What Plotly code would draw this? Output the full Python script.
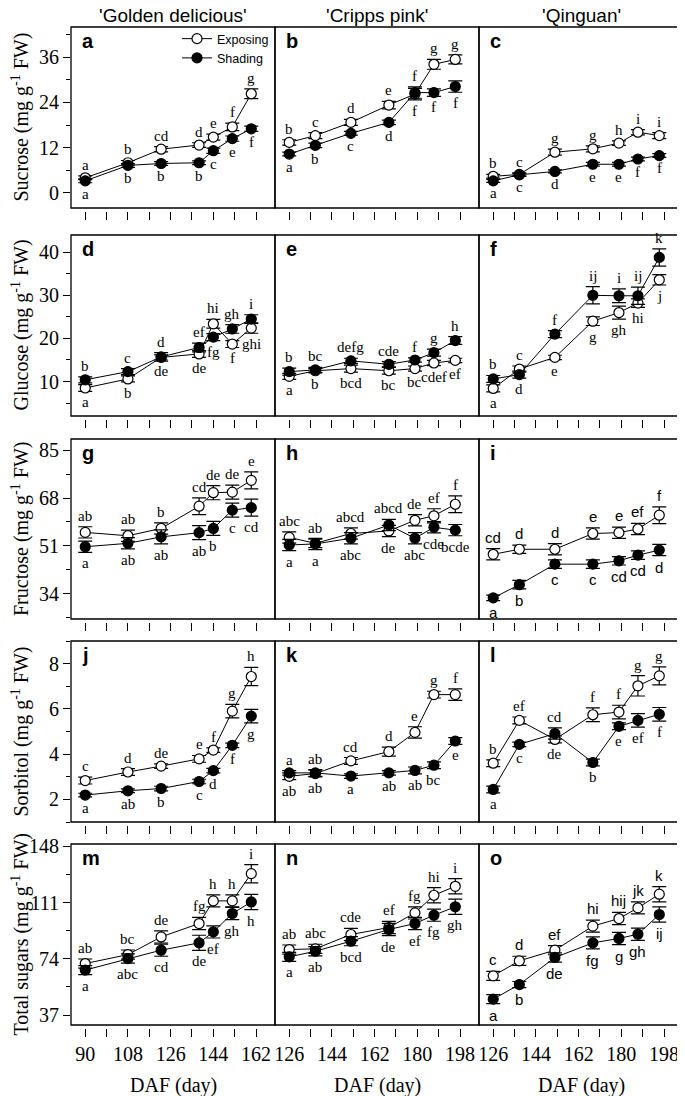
import plotly.graph_objects as go

W, H = 685, 1096
OFF = 8  # the page body has an 8px margin, positions below are given in window pixels

# DATA
days_gd = [90, 108, 122, 138, 144, 152, 160]
days_late = [126, 137, 152, 168, 179, 187, 196]
cultivars = ["'Golden delicious'", "'Cripps pink'", "'Qinguan'"]
sugar_names = ['Sucrose', 'Glucose', 'Fructose', 'Sorbitol', 'Total sugars']
panel_letters = list('abcdefghijklmno')

# one list per cultivar: Golden delicious, Cripps pink, Qinguan
sucrose_exp = [[4.0, 8.0, 11.6, 12.7, 14.8, 17.5, 26.3],
               [13.4, 15.2, 18.7, 23.3, 26.2, 34.1, 35.4],
               [4.4, 4.9, 10.8, 11.7, 13.2, 16.1, 15.2]]
sucrose_shd = [[3.2, 7.3, 7.8, 8.0, 11.2, 14.4, 17.0],
               [10.3, 12.6, 15.8, 18.7, 26.6, 26.6, 28.2],
               [3.2, 4.8, 5.7, 7.6, 7.6, 9.0, 9.9]]
sucrose_exp_err = [[0.5, 0.6, 0.7, 0.6, 0.8, 1.0, 1.3],
                   [0.7, 0.8, 0.8, 1.0, 1.5, 1.3, 1.2],
                   [0.5, 0.4, 0.8, 0.8, 0.6, 0.7, 0.8]]
sucrose_shd_err = [[0.5, 0.5, 0.5, 0.5, 0.7, 0.7, 0.7],
                   [0.5, 0.6, 0.5, 0.6, 1.5, 1.0, 1.5],
                   [0.4, 0.4, 0.4, 0.5, 0.5, 0.5, 0.5]]
sucrose_exp_lab = [['a', 'b', 'cd', 'd', 'e', 'f', 'g'],
                   ['b', 'c', 'd', 'e', 'f', 'g', 'g'],
                   ['b', 'c', 'g', 'g', 'h', 'i', 'i']]
sucrose_shd_lab = [['a', 'b', 'b', 'b', 'c', 'e', 'f'],
                   ['a', 'b', 'c', 'd', 'f', 'f', 'f'],
                   ['a', 'c', 'd', 'e', 'e', 'f', 'f']]

glucose_exp = [[8.5, 10.6, 15.6, 16.4, 23.4, 18.7, 22.4],
               [11.2, 12.5, 13.0, 12.5, 13.0, 14.3, 14.9],
               [8.4, 12.9, 15.6, 24.0, 26.0, 28.2, 33.6]]
glucose_shd = [[10.4, 12.3, 15.7, 17.9, 20.3, 22.2, 24.5],
               [12.3, 12.7, 14.8, 14.0, 15.0, 16.7, 19.5],
               [10.6, 11.6, 21.0, 30.0, 29.9, 29.9, 38.8]]
glucose_exp_err = [[0.8, 0.7, 0.6, 0.8, 1.0, 0.8, 1.2],
                   [0.7, 0.5, 0.8, 0.8, 0.6, 0.6, 0.5],
                   [0.8, 0.7, 0.5, 1.0, 1.5, 1.0, 1.2]]
glucose_shd_err = [[0.7, 0.7, 1.0, 1.0, 0.8, 1.0, 1.0],
                   [0.8, 0.6, 0.6, 0.6, 0.5, 0.8, 0.9],
                   [0.8, 0.8, 0.8, 2.0, 1.6, 2.0, 2.0]]
glucose_exp_lab = [['a', 'b', 'de', 'de', 'hi', 'f', 'ghi'],
                   ['a', 'b', 'bcd', 'bc', 'bc', 'cdef', 'ef'],
                   ['a', 'c', 'e', 'g', 'gh', 'hi', 'j']]
glucose_shd_lab = [['b', 'c', 'd', 'ef', 'fg', 'gh', 'i'],
                   ['b', 'bc', 'defg', 'cde', 'f', 'g', 'h'],
                   ['b', 'd', 'f', 'ij', 'i', 'ij', 'k']]

fructose_exp = [[55.8, 54.6, 57.2, 65.1, 69.9, 70.1, 74.3],
                [54.0, 51.9, 55.4, 56.3, 60.1, 61.7, 65.8],
                [48.0, 49.8, 49.8, 55.4, 55.7, 57.0, 61.9]]
fructose_shd = [[50.7, 51.9, 54.2, 55.7, 57.2, 63.7, 64.6],
                [51.3, 51.7, 53.7, 58.4, 53.7, 57.6, 56.6],
                [32.5, 37.2, 44.5, 44.5, 45.7, 47.7, 49.5]]
fructose_exp_err = [[2.0, 2.0, 2.0, 3.0, 2.5, 2.5, 3.0],
                    [2.0, 1.5, 2.0, 2.0, 2.0, 2.5, 3.0],
                    [2.0, 1.5, 2.0, 2.0, 2.0, 2.0, 3.0]]
fructose_shd_err = [[2.0, 2.0, 2.5, 2.5, 2.5, 2.5, 3.0],
                    [2.0, 2.0, 2.0, 2.0, 2.0, 2.0, 2.0],
                    [1.0, 1.5, 1.5, 1.5, 1.5, 1.5, 2.0]]
fructose_exp_lab = [['ab', 'ab', 'b', 'cd', 'de', 'de', 'e'],
                    ['abc', 'ab', 'abcd', 'de', 'de', 'ef', 'f'],
                    ['cd', 'd', 'd', 'e', 'e', 'ef', 'f']]
fructose_shd_lab = [['a', 'ab', 'ab', 'ab', 'b', 'c', 'cd'],
                    ['a', 'a', 'abc', 'abcd', 'abc', 'cde', 'bcde'],
                    ['a', 'b', 'c', 'c', 'cd', 'cd', 'd']]

sorbitol_exp = [[2.83, 3.21, 3.47, 3.79, 4.18, 5.90, 7.43],
                [3.02, 3.14, 3.70, 4.11, 4.96, 6.63, 6.63],
                [3.60, 5.49, 4.65, 5.74, 5.86, 7.02, 7.46]]
sorbitol_shd = [[2.19, 2.38, 2.48, 2.79, 3.27, 4.39, 5.68],
                [3.17, 3.17, 3.03, 3.17, 3.28, 3.51, 4.58],
                [2.44, 4.43, 4.91, 3.63, 5.23, 5.49, 5.76]]
sorbitol_exp_err = [[0.15, 0.15, 0.1, 0.15, 0.1, 0.3, 0.4],
                    [0.15, 0.15, 0.15, 0.2, 0.25, 0.15, 0.25],
                    [0.15, 0.15, 0.15, 0.3, 0.3, 0.45, 0.4]]
sorbitol_shd_err = [[0.08, 0.08, 0.1, 0.1, 0.1, 0.1, 0.3],
                    [0.1, 0.15, 0.1, 0.1, 0.15, 0.15, 0.15],
                    [0.15, 0.1, 0.25, 0.15, 0.15, 0.3, 0.3]]
sorbitol_exp_lab = [['c', 'd', 'de', 'e', 'f', 'g', 'h'],
                    ['ab', 'ab', 'cd', 'd', 'e', 'g', 'f'],
                    ['b', 'ef', 'de', 'f', 'f', 'g', 'g']]
sorbitol_shd_lab = [['a', 'ab', 'b', 'c', 'd', 'f', 'g'],
                    ['a', 'ab', 'a', 'ab', 'ab', 'bc', 'e'],
                    ['a', 'c', 'cd', 'b', 'e', 'ef', 'f']]

total_exp = [[70.9, 76.8, 88.4, 97.2, 112.1, 112.1, 130.0],
             [80.1, 80.6, 90.0, 94.6, 104.2, 115.8, 121.7],
             [62.8, 72.7, 79.7, 95.5, 100.5, 107.5, 116.5]]
total_shd = [[66.6, 74.2, 79.7, 84.5, 91.7, 103.8, 111.4],
             [75.3, 79.0, 85.6, 93.3, 97.2, 102.7, 108.2],
             [47.5, 57.1, 74.9, 84.5, 87.4, 90.2, 103.1]]
total_exp_err = [[3, 3, 4, 4, 4, 4, 6],
                 [3, 3, 4, 4, 4, 5, 5],
                 [3, 3, 3, 4, 4, 4, 5]]
total_shd_err = [[3, 3, 4, 5, 4, 4, 5],
                 [3, 3, 3, 4, 4, 4, 5],
                 [3, 2, 3, 4, 4, 4, 5]]
total_exp_lab = [['ab', 'bc', 'de', 'fg', 'h', 'h', 'i'],
                 ['ab', 'abc', 'cde', 'ef', 'fg', 'hi', 'i'],
                 ['c', 'd', 'ef', 'hi', 'hij', 'jk', 'k']]
total_shd_lab = [['a', 'abc', 'cd', 'de', 'ef', 'gh', 'h'],
                 ['a', 'ab', 'bcd', 'de', 'ef', 'fg', 'gh'],
                 ['a', 'b', 'de', 'fg', 'g', 'gh', 'ij']]

y_ticks = [[0, 12, 24, 36], [10, 20, 30, 40], [34, 51, 68, 85], [2, 4, 6, 8], [37, 74, 111, 148]]
x_ticks_gd = [90, 108, 126, 144, 162]
x_ticks_late = [126, 144, 162, 180, 198]

rows_data = [
    (sucrose_exp, sucrose_shd, sucrose_exp_err, sucrose_shd_err, sucrose_exp_lab, sucrose_shd_lab),
    (glucose_exp, glucose_shd, glucose_exp_err, glucose_shd_err, glucose_exp_lab, glucose_shd_lab),
    (fructose_exp, fructose_shd, fructose_exp_err, fructose_shd_err, fructose_exp_lab, fructose_shd_lab),
    (sorbitol_exp, sorbitol_shd, sorbitol_exp_err, sorbitol_shd_err, sorbitol_exp_lab, sorbitol_shd_lab),
    (total_exp, total_shd, total_exp_err, total_shd_err, total_exp_lab, total_shd_lab),
]

# LAYOUT (pixel boxes of the panels, in window pixels)
col_px = [(71, 275), (275, 479), (479, 683)]
row_px = [(27, 208), (235, 416), (439, 619), (641, 822), (844, 1025)]
y_ranges = [[-4, 44], [2, 44], [25, 89], [1, 9], [30.5, 149.5]]
y_minor = [6, 5, 8.5, 1, 18.5]
x_ranges = [[84, 170], [120, 206], [120, 206]]

SERIF = 'Liberation Serif'
SANS = 'Liberation Sans'


def px_x(v):
    return (v - OFF) / W


def px_y(v):
    return 1 - (v - OFF) / H


fig = go.Figure()
annotations = []
shapes = []
layout = {}

for r in range(5):
    exp, shd, exp_err, shd_err, exp_lab, shd_lab = rows_data[r]
    top, bottom = row_px[r]
    for c in range(3):
        i = r * 3 + c + 1
        xa = 'x' if i == 1 else f'x{i}'
        ya = 'y' if i == 1 else f'y{i}'
        left, right = col_px[c]
        days = days_gd if c == 0 else days_late
        major = x_ticks_gd if c == 0 else x_ticks_late
        tickvals = list(range(major[0], major[-1] + 1, 9))
        ticktext = [str(v) if v in major else ' ' for v in tickvals]

        layout[f'xaxis{i}'] = dict(
            domain=[px_x(left), px_x(right)], range=x_ranges[c], anchor='free',
            position=px_y(bottom + 3), showline=False, showgrid=False, zeroline=False,
            ticks='outside', ticklen=8, tickwidth=1.2, tickcolor='black',
            tickvals=tickvals, ticktext=ticktext, showticklabels=(r == 4), automargin=False,
            tickfont=dict(family=SERIF, size=20, color='black'))
        layout[f'yaxis{i}'] = dict(
            domain=[px_y(bottom), px_y(top)], range=y_ranges[r], anchor=xa,
            showline=False, showgrid=False, zeroline=False, automargin=False,
            ticks='outside' if c == 0 else '', ticklen=7, tickwidth=1.2, tickcolor='black',
            tickvals=y_ticks[r], showticklabels=(c == 0),
            minor=dict(ticks='outside' if c == 0 else '', ticklen=4, tickwidth=1.2,
                       tickcolor='black', tick0=y_ticks[r][0], dtick=y_minor[r]),
            tickfont=dict(family=SERIF, size=20, color='black'))

        shapes.append(dict(type='rect', xref=f'{xa} domain', yref=f'{ya} domain',
                           x0=0, x1=1, y0=0, y1=1, line=dict(color='black', width=1.3)))

        fig.add_trace(go.Scatter(
            x=days, y=exp[c], xaxis=xa, yaxis=ya, mode='lines+markers', name='Exposing',
            showlegend=(i == 1), legendrank=1,
            line=dict(color='black', width=1),
            marker=dict(symbol='circle', size=10, color='white', line=dict(color='black', width=1.2)),
            error_y=dict(type='data', array=exp_err[c], color='black', thickness=1.2, width=7)))
        fig.add_trace(go.Scatter(
            x=days, y=shd[c], xaxis=xa, yaxis=ya, mode='lines+markers', name='Shading',
            showlegend=(i == 1), legendrank=2,
            line=dict(color='black', width=1),
            marker=dict(symbol='circle', size=10, color='black', line=dict(color='black', width=1.2)),
            error_y=dict(type='data', array=shd_err[c], color='black', thickness=1.2, width=7)))

        # significance letters
        lab_font = dict(family=SANS if (c == 2 and r in (2, 4)) else SERIF, size=15, color='black')
        for j, d in enumerate(days):
            exp_up = exp[c][j] >= shd[c][j]
            for val, err, lab, up in ((exp[c][j], exp_err[c][j], exp_lab[c][j], exp_up),
                                      (shd[c][j], shd_err[c][j], shd_lab[c][j], not exp_up)):
                annotations.append(dict(
                    x=d, y=val + err if up else val - err, xref=xa, yref=ya, text=lab,
                    showarrow=False, yanchor='bottom' if up else 'top',
                    yshift=1 if up else -1, font=lab_font))

        # panel letter
        annotations.append(dict(x=px_x(left + 9), y=px_y(top + 1), xref='paper', yref='paper',
                                text=f'<b>{panel_letters[i - 1]}</b>', showarrow=False,
                                xanchor='left', yanchor='top',
                                font=dict(family=SANS, size=20, color='black')))

    # y axis title
    annotations.append(dict(x=px_x(20), y=px_y((top + bottom) / 2), xref='paper', yref='paper',
                            text=f'{sugar_names[r]} (mg g<sup>-1</sup> FW)', textangle=-90,
                            xanchor='center', yanchor='middle',
                            showarrow=False, font=dict(family=SERIF, size=20, color='black')))

for c in range(3):
    left, right = col_px[c]
    annotations.append(dict(x=px_x((left + right) / 2), y=px_y(16), xref='paper', yref='paper',
                            text=cultivars[c], showarrow=False, xanchor='center', yanchor='middle',
                            font=dict(family=SANS, size=19, color='black')))
    annotations.append(dict(x=px_x((left + right) / 2), y=px_y(1085), xref='paper', yref='paper',
                            text='DAF (day)', showarrow=False, xanchor='center', yanchor='middle',
                            font=dict(family=SERIF, size=20, color='black')))

fig.update_layout(
    width=W, height=H,
    margin=dict(l=0, r=0, t=0, b=0, pad=0, autoexpand=False),
    paper_bgcolor='white', plot_bgcolor='white',
    annotations=annotations, shapes=shapes,
    legend=dict(x=px_x(177), y=px_y(24), xanchor='left', yanchor='top',
                bgcolor='rgba(0,0,0,0)', tracegroupgap=0,
                font=dict(family=SANS, size=12.5, color='black')),
    **layout)

fig.write_html("out.html")
